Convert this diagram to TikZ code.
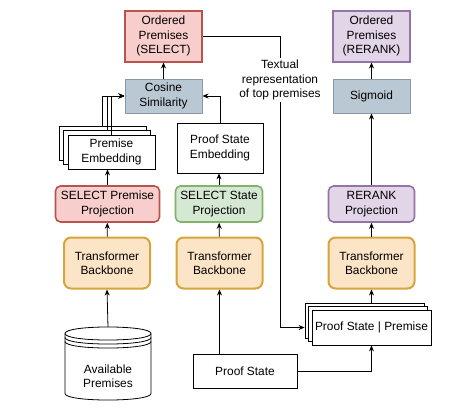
\documentclass[tikz,border=0pt]{standalone}
\usepackage{fontspec}
\setmainfont{Liberation Sans}
\usetikzlibrary{arrows.meta,calc}
\definecolor{redF}{HTML}{F8CECC}
\definecolor{redD}{HTML}{B85450}
\definecolor{grnF}{HTML}{D5E8D4}
\definecolor{grnD}{HTML}{82B366}
\definecolor{orgF}{HTML}{FCE4C6}
\definecolor{orgD}{HTML}{D6A53C}
\definecolor{purF}{HTML}{E1D5E7}
\definecolor{purD}{HTML}{9673A6}
\definecolor{bluF}{HTML}{BAC8D3}
\definecolor{bluD}{HTML}{8A99A6}
\begin{document}
\begin{tikzpicture}[x=1pt,y=-1pt,
  txt/.style={font=\fontsize{11.9}{14.3}\selectfont, align=center, inner sep=1pt},
  plainbox/.style={txt, draw, line width=0.8pt, fill=white},
  ordbox/.style={txt, draw, line width=2pt, minimum width=77pt, minimum height=51pt},
  simbox/.style={txt, draw=bluD, fill=bluF, line width=1pt, minimum width=77pt, minimum height=34pt},
  projbox/.style={txt, line width=1.6pt, rounded corners=5pt, minimum height=36pt},
  tbbox/.style={txt, draw=orgD, fill=orgF, line width=2pt, rounded corners=7pt, minimum width=86pt, minimum height=51pt},
  arr/.style={line width=0.8pt, -{Stealth[length=6pt,width=5pt]}},
  ln/.style={line width=0.8pt}]
\useasboundingbox (0,0) rectangle (474,410);

% top row
\node[ordbox, draw=redD, fill=redF] (ordS) at (163.5,36) {Ordered\\Premises\\(SELECT)};
\node[ordbox, draw=purD, fill=purF] (ordR) at (371.5,36) {Ordered\\Premises\\(RERANK)};
\node[simbox] (cos) at (163.5,96) {Cosine\\Similarity};
\node[simbox] (sig) at (371.5,96) {Sigmoid};

% embeddings
\node[plainbox, minimum width=87pt, minimum height=34pt] (pe3) at (102.5,143) {};
\node[plainbox, minimum width=87pt, minimum height=34pt] (pe2) at (107,147.5) {};
\node[plainbox, minimum width=87pt, minimum height=34pt] (pe1) at (111.5,152) {Premise\\Embedding};
\node[plainbox, minimum width=86pt, minimum height=50pt] (psemb) at (220,148) {Proof State\\Embedding};

% projections
\node[projbox, draw=redD, fill=redF, minimum width=104pt] (selP) at (107.5,204) {SELECT Premise\\Projection};
\node[projbox, draw=grnD, fill=grnF, minimum width=87pt] (selS) at (219,204) {SELECT State\\Projection};
\node[projbox, draw=purD, fill=purF, minimum width=86pt] (rer) at (371.5,204) {RERANK\\Projection};

% backbones
\node[tbbox] (tb1) at (107,263) {Transformer\\Backbone};
\node[tbbox] (tb2) at (219.5,263) {Transformer\\Backbone};
\node[tbbox] (tb3) at (371.5,263) {Transformer\\Backbone};

% available premises cylinder
\draw[ln, fill=white] (65,333.5) .. controls (65,324.8) and (151,324.8) .. (151,333.5)
  -- (151,393.5) .. controls (151,402.2) and (65,402.2) .. (65,393.5) -- cycle;
\draw[ln] (65,333.5) .. controls (65,342.2) and (151,342.2) .. (151,333.5);
\draw[ln] (65,337.5) .. controls (65,346.2) and (151,346.2) .. (151,337.5);
\draw[ln] (65,341.5) .. controls (65,350.2) and (151,350.2) .. (151,341.5);
\node[txt] (avail) at (108,376) {Available\\Premises};
\coordinate (avtop) at (108,327);

% proof state
\node[plainbox, minimum width=104pt, minimum height=34pt] (ps) at (245,371) {Proof State};
\node[plainbox, minimum width=119pt, minimum height=35pt] (psp3) at (364.5,320.5) {};
\node[plainbox, minimum width=119pt, minimum height=35pt] (psp2) at (368,324) {};
\node[plainbox, minimum width=119pt, minimum height=35pt] (psp) at (371.5,327.5) {Proof State | Premise};

% connectors
\draw[arr] (cos) -- (ordS);
\draw[arr] (sig) -- (ordR);
\draw[arr] (pe3.north) |- (cos.west);
\draw[arr] (pe2.north) |- (cos.west);
\draw[arr] (pe1.north) |- (cos.west);
\draw[arr] (psemb.north) |- (cos.east);
\draw[arr] (selP) -- (pe1.south -| selP);
\draw[arr] (selS) -- (psemb.south -| selS);
\draw[arr] (tb1) -- (selP);
\draw[arr] (tb2) -- (selS);
\draw[arr] (avtop) -- (tb1.south);
\draw[arr] (tb2 |- ps.north) -- (tb2.south);
\draw[arr] (ps.east) -| (psp.south);
\draw[arr] (tb3 |- psp3.north) -- (tb3.south);
\draw[arr] (tb3) -- (rer);
\draw[arr] (rer) -- (sig);
\coordinate (tx) at (280,0);
\draw[arr] (ordS.east) -| (tx |- psp.west) -- (psp3.west |- psp.west);
\node[txt, fill=white, inner sep=2pt] (txtlbl) at (280,80) {Textual\\representation\\of top premises};
\end{tikzpicture}
\end{document}
